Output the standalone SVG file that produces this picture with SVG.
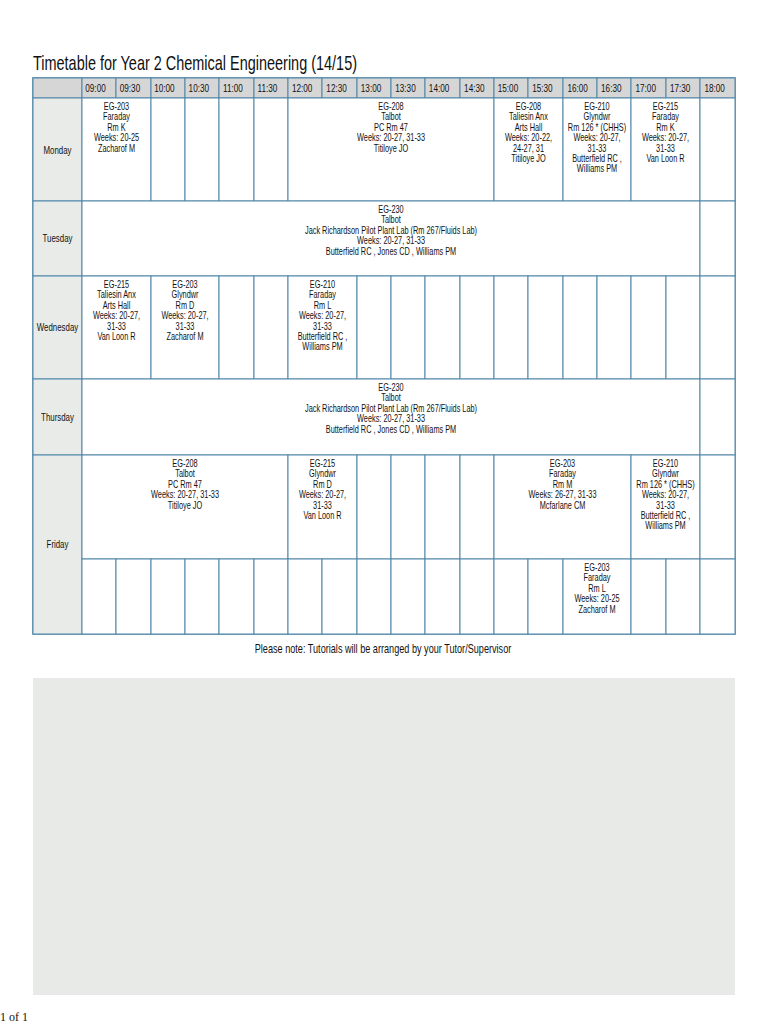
<svg xmlns="http://www.w3.org/2000/svg" width="768" height="1024" viewBox="0 0 768 1024">
<style>
.c{fill:#fff;stroke:#4f86a8;stroke-width:1}
.d{fill:#e8ebe8;stroke:#4f86a8;stroke-width:1}
.h{fill:#d6d6d6;stroke:#4f86a8;stroke-width:1}
.t{font-family:"Liberation Sans",Arial,sans-serif;font-size:10.5px;fill:#111;text-anchor:middle}
.ht{font-family:"Liberation Sans",Arial,sans-serif;font-size:10px;fill:#111}
.dt{font-family:"Liberation Sans",Arial,sans-serif;font-size:10.5px;fill:#111;text-anchor:middle}
</style>
<rect width="768" height="1024" fill="#fff"/>
<text x="33" y="70" textLength="324" lengthAdjust="spacingAndGlyphs" font-family="Liberation Sans, Arial, sans-serif" font-size="21" fill="#111">Timetable for Year 2 Chemical Engineering (14/15)</text>
<rect x="33" y="78" width="702" height="556" fill="none" stroke="#4f86a8" stroke-width="1.5"/>
<g id="header">
<rect class="h" x="33" y="78" width="49" height="20"/>
<rect class="h" x="82" y="78" width="34" height="20"/><rect class="h" x="116" y="78" width="35" height="20"/><rect class="h" x="151" y="78" width="34" height="20"/><rect class="h" x="185" y="78" width="34" height="20"/><rect class="h" x="219" y="78" width="35" height="20"/><rect class="h" x="254" y="78" width="34" height="20"/><rect class="h" x="288" y="78" width="34" height="20"/><rect class="h" x="322" y="78" width="35" height="20"/><rect class="h" x="357" y="78" width="34" height="20"/><rect class="h" x="391" y="78" width="34" height="20"/><rect class="h" x="425" y="78" width="35" height="20"/><rect class="h" x="460" y="78" width="34" height="20"/><rect class="h" x="494" y="78" width="34" height="20"/><rect class="h" x="528" y="78" width="35" height="20"/><rect class="h" x="563" y="78" width="34" height="20"/><rect class="h" x="597" y="78" width="34" height="20"/><rect class="h" x="631" y="78" width="35" height="20"/><rect class="h" x="666" y="78" width="34" height="20"/><rect class="h" x="700" y="78" width="35" height="20"/>
<g transform="scale(0.82,1)">
<text class="ht" y="92"><tspan x="104">09:00</tspan><tspan x="146">09:30</tspan><tspan x="188">10:00</tspan><tspan x="230">10:30</tspan><tspan x="272">11:00</tspan><tspan x="314">11:30</tspan><tspan x="356">12:00</tspan><tspan x="398">12:30</tspan><tspan x="440">13:00</tspan><tspan x="482">13:30</tspan><tspan x="523">14:00</tspan><tspan x="566">14:30</tspan><tspan x="607">15:00</tspan><tspan x="649">15:30</tspan><tspan x="692">16:00</tspan><tspan x="733">16:30</tspan><tspan x="775">17:00</tspan><tspan x="817">17:30</tspan><tspan x="859">18:00</tspan></text>
</g>
</g>
<g id="days">
<rect class="d" x="33" y="98" width="49" height="103"/>
<rect class="d" x="33" y="201" width="49" height="75"/>
<rect class="d" x="33" y="276" width="49" height="103"/>
<rect class="d" x="33" y="379" width="49" height="76"/>
<rect class="d" x="33" y="455" width="49" height="179"/>
<g transform="translate(57.5,0) scale(0.75,1)">
<text class="dt" x="0" y="154">Monday</text>
<text class="dt" x="0" y="242">Tuesday</text>
<text class="dt" x="0" y="331">Wednesday</text>
<text class="dt" x="0" y="421">Thursday</text>
<text class="dt" x="0" y="548">Friday</text>
</g>
</g>
<g id="monday">
<rect class="c" x="82" y="98" width="69" height="103"/>
<rect class="c" x="151" y="98" width="34" height="103"/><rect class="c" x="185" y="98" width="34" height="103"/><rect class="c" x="219" y="98" width="35" height="103"/><rect class="c" x="254" y="98" width="34" height="103"/>
<rect class="c" x="288" y="98" width="206" height="103"/>
<rect class="c" x="494" y="98" width="69" height="103"/>
<rect class="c" x="563" y="98" width="68" height="103"/>
<rect class="c" x="631" y="98" width="69" height="103"/>
<rect class="c" x="700" y="98" width="35" height="103"/>
<g transform="translate(116.5,0) scale(0.7,1)"><text class="t" y="110"><tspan x="0">EG-203</tspan><tspan x="0" dy="10.4">Faraday</tspan><tspan x="0" dy="10.4">Rm K</tspan><tspan x="0" dy="10.4">Weeks: 20-25</tspan><tspan x="0" dy="10.4">Zacharof M</tspan></text></g>
<g transform="translate(391,0) scale(0.7,1)"><text class="t" y="110"><tspan x="0">EG-208</tspan><tspan x="0" dy="10.4">Talbot</tspan><tspan x="0" dy="10.4">PC Rm 47</tspan><tspan x="0" dy="10.4">Weeks: 20-27, 31-33</tspan><tspan x="0" dy="10.4">Titiloye JO</tspan></text></g>
<g transform="translate(528.5,0) scale(0.7,1)"><text class="t" y="110"><tspan x="0">EG-208</tspan><tspan x="0" dy="10.4">Taliesin Anx</tspan><tspan x="0" dy="10.4">Arts Hall</tspan><tspan x="0" dy="10.4">Weeks: 20-22,</tspan><tspan x="0" dy="10.4">24-27, 31</tspan><tspan x="0" dy="10.4">Titiloye JO</tspan></text></g>
<g transform="translate(597,0) scale(0.7,1)"><text class="t" y="110"><tspan x="0">EG-210</tspan><tspan x="0" dy="10.4">Glyndwr</tspan><tspan x="0" dy="10.4">Rm 126 * (CHHS)</tspan><tspan x="0" dy="10.4">Weeks: 20-27,</tspan><tspan x="0" dy="10.4">31-33</tspan><tspan x="0" dy="10.4">Butterfield RC ,</tspan><tspan x="0" dy="10.4">Williams PM</tspan></text></g>
<g transform="translate(665.5,0) scale(0.7,1)"><text class="t" y="110"><tspan x="0">EG-215</tspan><tspan x="0" dy="10.4">Faraday</tspan><tspan x="0" dy="10.4">Rm K</tspan><tspan x="0" dy="10.4">Weeks: 20-27,</tspan><tspan x="0" dy="10.4">31-33</tspan><tspan x="0" dy="10.4">Van Loon R</tspan></text></g>
</g>
<g id="tuesday">
<rect class="c" x="82" y="201" width="618" height="75"/>
<rect class="c" x="700" y="201" width="35" height="75"/>
<g transform="translate(391,0) scale(0.7,1)"><text class="t" y="213"><tspan x="0">EG-230</tspan><tspan x="0" dy="10.4">Talbot</tspan><tspan x="0" dy="10.4">Jack Richardson Pilot Plant Lab (Rm 267/Fluids Lab)</tspan><tspan x="0" dy="10.4">Weeks: 20-27, 31-33</tspan><tspan x="0" dy="10.4">Butterfield RC , Jones CD , Williams PM</tspan></text></g>
</g>
<g id="wednesday">
<rect class="c" x="82" y="276" width="69" height="103"/>
<rect class="c" x="151" y="276" width="68" height="103"/>
<rect class="c" x="219" y="276" width="35" height="103"/><rect class="c" x="254" y="276" width="34" height="103"/>
<rect class="c" x="288" y="276" width="69" height="103"/>
<rect class="c" x="357" y="276" width="34" height="103"/><rect class="c" x="391" y="276" width="34" height="103"/><rect class="c" x="425" y="276" width="35" height="103"/><rect class="c" x="460" y="276" width="34" height="103"/><rect class="c" x="494" y="276" width="34" height="103"/><rect class="c" x="528" y="276" width="35" height="103"/><rect class="c" x="563" y="276" width="34" height="103"/><rect class="c" x="597" y="276" width="34" height="103"/><rect class="c" x="631" y="276" width="35" height="103"/><rect class="c" x="666" y="276" width="34" height="103"/><rect class="c" x="700" y="276" width="35" height="103"/>
<g transform="translate(116.5,0) scale(0.7,1)"><text class="t" y="288"><tspan x="0">EG-215</tspan><tspan x="0" dy="10.4">Taliesin Anx</tspan><tspan x="0" dy="10.4">Arts Hall</tspan><tspan x="0" dy="10.4">Weeks: 20-27,</tspan><tspan x="0" dy="10.4">31-33</tspan><tspan x="0" dy="10.4">Van Loon R</tspan></text></g>
<g transform="translate(185,0) scale(0.7,1)"><text class="t" y="288"><tspan x="0">EG-203</tspan><tspan x="0" dy="10.4">Glyndwr</tspan><tspan x="0" dy="10.4">Rm D</tspan><tspan x="0" dy="10.4">Weeks: 20-27,</tspan><tspan x="0" dy="10.4">31-33</tspan><tspan x="0" dy="10.4">Zacharof M</tspan></text></g>
<g transform="translate(322.5,0) scale(0.7,1)"><text class="t" y="288"><tspan x="0">EG-210</tspan><tspan x="0" dy="10.4">Faraday</tspan><tspan x="0" dy="10.4">Rm L</tspan><tspan x="0" dy="10.4">Weeks: 20-27,</tspan><tspan x="0" dy="10.4">31-33</tspan><tspan x="0" dy="10.4">Butterfield RC ,</tspan><tspan x="0" dy="10.4">Williams PM</tspan></text></g>
</g>
<g id="thursday">
<rect class="c" x="82" y="379" width="618" height="76"/>
<rect class="c" x="700" y="379" width="35" height="76"/>
<g transform="translate(391,0) scale(0.7,1)"><text class="t" y="391"><tspan x="0">EG-230</tspan><tspan x="0" dy="10.4">Talbot</tspan><tspan x="0" dy="10.4">Jack Richardson Pilot Plant Lab (Rm 267/Fluids Lab)</tspan><tspan x="0" dy="10.4">Weeks: 20-27, 31-33</tspan><tspan x="0" dy="10.4">Butterfield RC , Jones CD , Williams PM</tspan></text></g>
</g>
<g id="friday">
<rect class="c" x="82" y="455" width="206" height="104"/>
<rect class="c" x="288" y="455" width="69" height="104"/>
<rect class="c" x="357" y="455" width="34" height="104"/><rect class="c" x="391" y="455" width="34" height="104"/><rect class="c" x="425" y="455" width="35" height="104"/><rect class="c" x="460" y="455" width="34" height="104"/>
<rect class="c" x="494" y="455" width="137" height="104"/>
<rect class="c" x="631" y="455" width="69" height="104"/>
<rect class="c" x="700" y="455" width="35" height="104"/>
<rect class="c" x="82" y="559" width="34" height="75"/><rect class="c" x="116" y="559" width="35" height="75"/><rect class="c" x="151" y="559" width="34" height="75"/><rect class="c" x="185" y="559" width="34" height="75"/><rect class="c" x="219" y="559" width="35" height="75"/><rect class="c" x="254" y="559" width="34" height="75"/><rect class="c" x="288" y="559" width="34" height="75"/><rect class="c" x="322" y="559" width="35" height="75"/><rect class="c" x="357" y="559" width="34" height="75"/><rect class="c" x="391" y="559" width="34" height="75"/><rect class="c" x="425" y="559" width="35" height="75"/><rect class="c" x="460" y="559" width="34" height="75"/><rect class="c" x="494" y="559" width="34" height="75"/><rect class="c" x="528" y="559" width="35" height="75"/>
<rect class="c" x="563" y="559" width="68" height="75"/>
<rect class="c" x="631" y="559" width="35" height="75"/><rect class="c" x="666" y="559" width="34" height="75"/><rect class="c" x="700" y="559" width="35" height="75"/>
<g transform="translate(185,0) scale(0.7,1)"><text class="t" y="467"><tspan x="0">EG-208</tspan><tspan x="0" dy="10.4">Talbot</tspan><tspan x="0" dy="10.4">PC Rm 47</tspan><tspan x="0" dy="10.4">Weeks: 20-27, 31-33</tspan><tspan x="0" dy="10.4">Titiloye JO</tspan></text></g>
<g transform="translate(322.5,0) scale(0.7,1)"><text class="t" y="467"><tspan x="0">EG-215</tspan><tspan x="0" dy="10.4">Glyndwr</tspan><tspan x="0" dy="10.4">Rm D</tspan><tspan x="0" dy="10.4">Weeks: 20-27,</tspan><tspan x="0" dy="10.4">31-33</tspan><tspan x="0" dy="10.4">Van Loon R</tspan></text></g>
<g transform="translate(562.5,0) scale(0.7,1)"><text class="t" y="467"><tspan x="0">EG-203</tspan><tspan x="0" dy="10.4">Faraday</tspan><tspan x="0" dy="10.4">Rm M</tspan><tspan x="0" dy="10.4">Weeks: 26-27, 31-33</tspan><tspan x="0" dy="10.4">Mcfarlane CM</tspan></text></g>
<g transform="translate(665.5,0) scale(0.7,1)"><text class="t" y="467"><tspan x="0">EG-210</tspan><tspan x="0" dy="10.4">Glyndwr</tspan><tspan x="0" dy="10.4">Rm 126 * (CHHS)</tspan><tspan x="0" dy="10.4">Weeks: 20-27,</tspan><tspan x="0" dy="10.4">31-33</tspan><tspan x="0" dy="10.4">Butterfield RC ,</tspan><tspan x="0" dy="10.4">Williams PM</tspan></text></g>
<g transform="translate(597,0) scale(0.7,1)"><text class="t" y="571"><tspan x="0">EG-203</tspan><tspan x="0" dy="10.4">Faraday</tspan><tspan x="0" dy="10.4">Rm L</tspan><tspan x="0" dy="10.4">Weeks: 20-25</tspan><tspan x="0" dy="10.4">Zacharof M</tspan></text></g>
</g>
<g transform="translate(383,0) scale(0.73,1)"><text x="0" y="653" text-anchor="middle" font-family="Liberation Sans, Arial, sans-serif" font-size="12.5" fill="#111">Please note: Tutorials will be arranged by your Tutor/Supervisor</text></g>
<rect x="33" y="678" width="702" height="317" fill="#e8eae8"/>
<text x="0" y="1021" font-family="Liberation Serif, serif" font-size="12" fill="#111">1 of 1</text>
</svg>
